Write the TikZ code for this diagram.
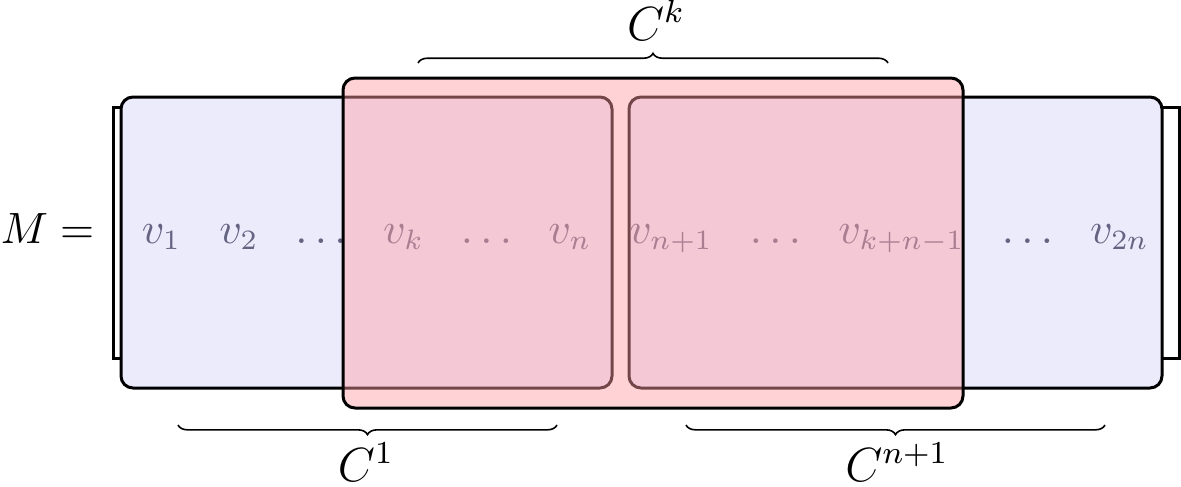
\documentclass[tikz,border=0pt]{standalone}
\usetikzlibrary{decorations.pathreplacing}
\definecolor{cellfill}{RGB}{236,235,252}
\definecolor{vcol}{RGB}{100,100,130}
\definecolor{redfill}{RGB}{255,158,165}
\begin{document}
\begin{tikzpicture}[x=0.25pt,y=-0.25pt,
  cellbox/.style={draw=black, line width=0.75pt, fill=cellfill, rounded corners=3pt},
  vtext/.style={text=vcol, inner sep=0pt, anchor=base, font=\fontsize{10.5}{12}\selectfont},
  lbl/.style={inner sep=0pt, anchor=base, font=\fontsize{11.5}{14}\selectfont},
  brk/.style={line width=0.75pt},
  brc/.style={decorate, decoration={brace, amplitude=2.4pt}, line width=0.4pt},
  overlay box/.style={fill=redfill, fill opacity=0.45, rounded corners=3pt},
  overlay border/.style={draw=black, line width=0.75pt, rounded corners=3pt}]
\useasboundingbox (0,0) rectangle (1181,486);
% matrix brackets
\draw[brk] (128,107) -- (113,107) -- (113,358) -- (128,358);
\draw[brk] (1158,107) -- (1179,107) -- (1179,358) -- (1158,358);
% left-hand side
\node[inner sep=0pt, anchor=base west, font=\fontsize{10.5}{12}\selectfont] (lhs) at (0,243) {$M =$};
% blue blocks
\draw[cellbox] (121,97) rectangle (612,388);
\draw[cellbox] (629,97) rectangle (1162,388);
% entries
\node[vtext] (v1) at (161.5,243) {$v_1$};
\node[vtext] (v2) at (239,243) {$v_2$};
\node[vtext] (d1) at (321,243) {$\ldots$};
\node[vtext] (vk) at (403.5,243) {$v_k$};
\node[vtext] (d2) at (486.5,243) {$\ldots$};
\node[vtext] (vn) at (570,243) {$v_n$};
\node[vtext] (vn1) at (671,243) {$v_{n+1}$};
\node[vtext] (d3) at (775.5,243) {$\ldots$};
\node[vtext] (vkn) at (901.5,243) {$v_{k+n-1}$};
\node[vtext] (d4) at (1027.5,243) {$\ldots$};
\node[vtext] (v2n) at (1119.5,243) {$v_{2n}$};
% red window
\fill[overlay box] (343,78) rectangle (963,408);
\draw[overlay border] (343,78) rectangle (963,408);
% braces
\coordinate (bk1) at (418,63);
\coordinate (bk2) at (888,63);
\coordinate (b11) at (178,425);
\coordinate (b12) at (557,425);
\coordinate (bn1) at (686,425);
\coordinate (bn2) at (1105,425);
\draw[brc] (bk1) -- (bk2);
\draw[brc] (b12) -- (b11);
\draw[brc] (bn2) -- (bn1);
\node[lbl] (ck) at (656,40) {$C^k$};
\node[lbl] (c1) at (366,481) {$C^1$};
\node[lbl] (cn1) at (897,481) {$C^{n+1}$};
\end{tikzpicture}
\end{document}
